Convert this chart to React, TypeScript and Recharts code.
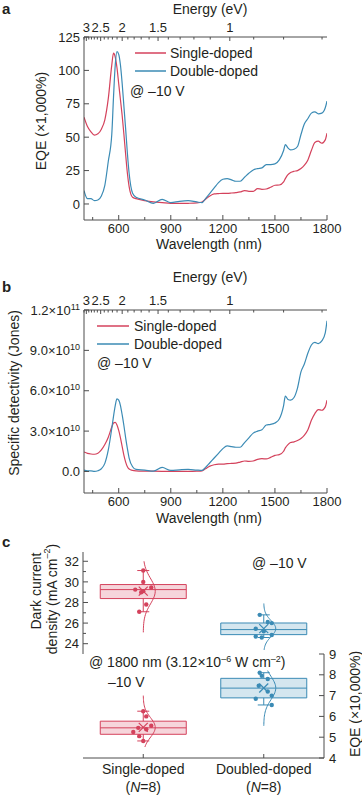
import React from 'react';
import {
  LineChart,
  ComposedChart,
  Line,
  Scatter,
  XAxis,
  YAxis,
  Legend,
  ReferenceArea,
  ReferenceLine,
} from 'recharts';

const FONT = '"Liberation Sans", Arial, Helvetica, sans-serif';
const INK = '#231f20';
const FRAME = '#4d4d4d';
const RED = '#d4425c';
const BLUE = '#3b8bb5';
const COLORS = [RED, BLUE];

// ---------- panels a / b : spectra ----------
const seriesNames = ['Single-doped', 'Double-doped'];

const wavelengths = [
  400, 420, 440, 460, 480, 500, 520, 540, 560, 570, 580, 590, 600, 610, 620, 630, 640, 650, 660, 680,
  700, 750, 800, 850, 900, 950, 1000, 1050, 1080, 1100, 1125, 1150, 1175, 1200, 1225, 1250, 1275, 1300,
  1325, 1350, 1375, 1400, 1425, 1450, 1475, 1500, 1525, 1550, 1560, 1575, 1590, 1610, 1630, 1650, 1670,
  1690, 1710, 1730, 1750, 1770, 1790, 1800,
];

// EQE (x1,000 %)
const eqeSingle = [
  65, 58, 54, 51.5, 52.5, 56, 63, 79, 104, 113, 110, 102, 90, 78, 66, 52, 37, 23, 13, 5,
  4, 2.5, 1.5, 1, 0.5, 0.4, 0.5, 0.8, 1.5, 3.5, 6, 7.5, 7.8, 8, 8, 8.2, 8.5, 9,
  10, 9.5, 9.5, 11.5, 11, 11.2, 12.5, 14, 14.2, 16.5, 19, 22, 23.5, 24.5, 25, 26.5, 29,
  33, 40, 46, 47, 45.5, 48, 53,
];
const eqeDouble = [
  10, 4, 4, 2.5, 3, 6, 14, 32, 52, 80, 104, 114, 112, 104, 90, 73, 56, 38, 23, 8,
  5, 3, 0.5, 3.5, 1, 2, 2.5, 1.5, 1, 4, 8, 12, 16, 18.5, 19, 18, 17, 17,
  20, 23, 25.5, 26.5, 27, 29.5, 29.5, 30, 33, 40, 44.5, 42, 40.5, 41, 43, 52, 60,
  64, 68, 69, 67.5, 68, 72, 77,
];

// specific detectivity (x10^10 Jones)
const detSingle = [
  1.45, 1.35, 1.3, 1.28, 1.35, 1.6, 2.0, 2.55, 3.3, 3.6, 3.65, 3.45, 3.05, 2.5, 1.85, 1.2, 0.7, 0.35, 0.18, 0.08,
  0.05, 0.03, 0.02, 0.01, 0, 0, 0, 0.02, 0.05, 0.2, 0.4, 0.5, 0.55, 0.55, 0.58, 0.6, 0.62, 0.7,
  0.78, 0.75, 0.78, 0.9, 0.95, 0.93, 1.05, 1.2, 1.25, 1.5, 1.75, 2.0, 2.15, 2.2, 2.3, 2.45, 2.7,
  3.1, 3.8, 4.3, 4.6, 4.55, 4.8, 5.3,
];
const detDouble = [
  0.1, 0.05, 0.05, 0, 0.05, 0.2, 0.6, 1.6, 3.2, 4.1, 4.9, 5.4, 5.3, 4.9, 4.2, 3.4, 2.5, 1.7, 1.0, 0.35,
  0.15, 0.1, 0.02, 0.3, 0.08, 0.12, 0.15, 0.1, 0.08, 0.3, 0.65, 1.0, 1.35, 1.7, 1.9, 1.85, 1.8, 1.8,
  2.15, 2.5, 2.85, 3.0, 3.1, 3.45, 3.5, 3.6, 3.9, 4.9, 5.6, 5.35, 5.3, 5.5, 6.2, 7.4, 8.0,
  8.8, 9.4, 9.6, 9.5, 9.7, 10.3, 11.2,
];

const wlMajor = [600, 900, 1200, 1500, 1800];
const wlMinor = [450, 750, 1050, 1350, 1650];
const energyMajor = [3, 2.5, 2, 1.5, 1];
const energyMinor = [3.1, 2.9, 2.8, 2.7, 2.6, 2.4, 2.3, 2.2, 2.1, 1.9, 1.8, 1.7, 1.6, 1.4, 1.3, 1.2, 1.1, 0.9, 0.8, 0.7];
const eqeTicks = [0, 25, 50, 75, 100, 125];
const detTicks = [0, 3e10, 6e10, 9e10, 1.2e11];

// ---------- panel c : box plots ----------
const groupNames = ['Single-doped', 'Doubled-doped'];
const groupN = [8, 8];

// dark current density (mA cm^-2)
const darkSingle = [31.1, 30.0, 29.45, 29.25, 29.1, 29.0, 27.8, 27.1];
const darkDouble = [26.8, 26.1, 26.0, 25.45, 25.2, 24.85, 24.7, 24.6];
const darkQ1 = [28.38, 24.88];
const darkMedian = [29.25, 25.37];
const darkQ3 = [29.74, 26.01];
const darkCurveLo = [25.1, 23.4];
const darkCurveHi = [32.0, 27.9];
const darkMajor = [24, 26, 28, 30, 32];
const darkMinor = [25, 27, 29, 31];

// EQE at 1800 nm (x10,000 %)
const nirSingle = [6.25, 6.0, 5.55, 5.45, 5.38, 5.25, 5.05, 4.82];
const nirDouble = [8.1, 7.95, 7.8, 7.47, 7.2, 7.0, 6.85, 6.55];
const nirQ1 = [5.14, 6.89];
const nirMedian = [5.45, 7.36];
const nirQ3 = [5.77, 7.83];
const nirCurveLo = [4.53, 5.55];
const nirCurveHi = [7.0, 8.2];
const nirTicks = [4, 5, 6, 7, 8, 9];

// horizontal jitter of the points (px)
const jitterDark = [
  [0, 0, 8, -8, 0, -2, 3, -4],
  [-4, 4, 8, -8, 0, 8, -8, -2],
];
const jitterNir = [
  [0, 3, 8, -5, 3, -10, -4, 0],
  [-4, -2, 4, -5, 4, 8, -8, 8],
];

const PX = 120.5; // px per category unit in panel c
const BOX_HALF = 43 / PX;
const CAP = 6 / PX;
const CURVE_AMP = 12;

type Side = 'left' | 'right' | 'top' | 'bottom';
type TickOpts = {
  side: Side;
  gap: number;
  isMajor: (v: number) => boolean;
  label?: (v: number, x: number, y: number) => React.ReactNode;
  len?: number;
  minorLen?: number;
  fontSize?: number;
};

function makeTick(o: TickOpts) {
  return (props: any) => {
    const { x, y, payload } = props;
    const v = payload.value;
    const major = o.isMajor(v);
    const L = major ? o.len ?? 5 : o.minorLen ?? 3;
    let l = [0, 0, 0, 0];
    let anchor = 'middle';
    let dy = '0';
    if (o.side === 'left') {
      const ax = x + o.gap;
      l = [ax, y, ax + L, y];
      anchor = 'end';
      dy = '0.36em';
    } else if (o.side === 'right') {
      const ax = x - o.gap;
      l = [ax, y, ax - L, y];
      anchor = 'start';
      dy = '0.36em';
    } else if (o.side === 'bottom') {
      const ay = y - o.gap;
      l = [x, ay, x, ay - L];
      dy = '0.75em';
    } else {
      const ay = y + o.gap;
      l = [x, ay, x, ay + L];
      dy = '0';
    }
    const lab = major && o.label ? o.label(v, x, y) : null;
    return (
      <g>
        <line x1={l[0]} y1={l[1]} x2={l[2]} y2={l[3]} stroke={FRAME} strokeWidth={1} />
        {lab != null && (
          <text x={x} y={y} dy={dy} textAnchor={anchor} fontFamily={FONT} fontSize={o.fontSize ?? 13} fill={INK}>
            {lab}
          </text>
        )}
      </g>
    );
  };
}

const near = (list: number[]) => (v: number) => list.some((t) => Math.abs(t - v) < 1e-6 * Math.max(1, Math.abs(t)));

const energyTicksNm = [...energyMajor, ...energyMinor].map((e) => 1240 / e);
const energyMajorNm = energyMajor.map((e) => 1240 / e);

const bottomWlTick = makeTick({ side: 'bottom', gap: 3, isMajor: near(wlMajor), label: (v) => String(v) });
const topEvTick = makeTick({
  side: 'top',
  gap: 5,
  isMajor: near(energyMajorNm),
  label: (v) => String(Math.round((1240 / v) * 10) / 10),
  len: 4,
  minorLen: 2.5,
});

function sciLabel(v: number) {
  if (v === 0) return '0.0';
  const exp = Math.floor(Math.log10(v) + 1e-9);
  const mant = (v / Math.pow(10, exp)).toFixed(1);
  return (
    <>
      {mant}×10
      <tspan dy={-5} fontSize={9}>
        {exp}
      </tspan>
    </>
  );
}

const eqeLeftTick = makeTick({ side: 'left', gap: 4, isMajor: near(eqeTicks), label: (v) => String(v) });
const detLeftTick = makeTick({ side: 'left', gap: 4, isMajor: near(detTicks), label: (v) => sciLabel(v) });

function SpectrumLegend({ lineW, gap }: { lineW: number; gap: number }) {
  return (
    <div style={{ fontFamily: FONT, fontSize: 14, color: INK, lineHeight: 1 }}>
      {seriesNames.map((n, i) => (
        <div key={n} style={{ display: 'flex', alignItems: 'center', height: 18.5 }}>
          <svg width={lineW} height={4} style={{ display: 'block' }}>
            <line x1={0} y1={2} x2={lineW} y2={2} stroke={COLORS[i]} strokeWidth={1.5} />
          </svg>
          <span style={{ marginLeft: gap }}>{n}</span>
        </div>
      ))}
    </div>
  );
}

function SpectrumPanel(props: {
  top: number;
  single: number[];
  double: number[];
  scale: number;
  yDomain: [number, number];
  yTicks: number[];
  yTick: any;
  legendLeft: number;
  lineW: number;
  gap: number;
}) {
  const { top, single, double, scale, yDomain, yTicks, yTick, legendLeft, lineW, gap } = props;
  const data = wavelengths.map((wl, i) => ({ wl, single: single[i] * scale, double: double[i] * scale }));
  return (
    <div style={{ position: 'absolute', left: 0, top }}>
      <LineChart width={362} height={265} data={data} margin={{ top: 17, right: 35, bottom: 20, left: 44 }}>
        <XAxis
          xAxisId="wl"
          dataKey="wl"
          type="number"
          domain={[400, 1800]}
          allowDataOverflow
          ticks={[...wlMajor, ...wlMinor]}
          interval={0}
          height={25}
          tickSize={0}
          tickMargin={3}
          tickLine={false}
          axisLine={{ stroke: FRAME }}
          tick={bottomWlTick}
        />
        <XAxis
          xAxisId="ev"
          dataKey="wl"
          type="number"
          orientation="top"
          domain={[400, 1800]}
          allowDataOverflow
          ticks={energyTicksNm}
          interval={0}
          height={20}
          tickSize={0}
          tickMargin={5}
          tickLine={false}
          axisLine={{ stroke: FRAME }}
          tick={topEvTick}
        />
        <YAxis
          yAxisId="v"
          type="number"
          domain={yDomain}
          allowDataOverflow
          ticks={yTicks}
          interval={0}
          width={40}
          tickSize={0}
          tickMargin={4}
          tickLine={false}
          axisLine={{ stroke: FRAME }}
          tick={yTick}
        />
        <YAxis
          yAxisId="r"
          orientation="right"
          type="number"
          domain={yDomain}
          allowDataOverflow
          width={0}
          tick={false}
          tickLine={false}
          axisLine={{ stroke: FRAME }}
        />
        <Legend
          layout="vertical"
          align="center"
          verticalAlign="middle"
          wrapperStyle={{ left: legendLeft, top: 43.5, width: 200 }}
          content={() => <SpectrumLegend lineW={lineW} gap={gap} />}
        />
        <Line
          xAxisId="wl"
          yAxisId="v"
          type="monotone"
          dataKey="single"
          name={seriesNames[0]}
          stroke={RED}
          strokeWidth={1.2}
          dot={false}
          isAnimationActive={false}
        />
        <Line
          xAxisId="wl"
          yAxisId="v"
          type="monotone"
          dataKey="double"
          name={seriesNames[1]}
          stroke={BLUE}
          strokeWidth={1.2}
          dot={false}
          isAnimationActive={false}
        />
      </LineChart>
    </div>
  );
}

// ---------- box plot helpers ----------
const mean = (a: number[]) => a.reduce((s, v) => s + v, 0) / a.length;
const sd = (a: number[]) => {
  const m = mean(a);
  return Math.sqrt(a.reduce((s, v) => s + (v - m) * (v - m), 0) / (a.length - 1));
};

function normalCurve(pos: number, vals: number[], lo: number, hi: number) {
  const m = mean(vals);
  const s = sd(vals);
  const pts = [];
  for (let k = 0; k <= 40; k++) {
    const y = hi - ((hi - lo) * k) / 40;
    const z = (y - m) / s;
    pts.push({ x: pos + (CURVE_AMP * Math.exp((-z * z) / 2)) / PX, y });
  }
  return pts;
}

const Dot = (c: string) => (p: any) => <circle cx={p.cx} cy={p.cy} r={2.2} fill={c} />;
const Cross = (c: string) => (p: any) => (
  <g stroke={c} strokeWidth={1.2}>
    <line x1={p.cx - 4.5} y1={p.cy - 4.5} x2={p.cx + 4.5} y2={p.cy + 4.5} />
    <line x1={p.cx - 4.5} y1={p.cy + 4.5} x2={p.cx + 4.5} y2={p.cy - 4.5} />
  </g>
);
const NoShape = () => <g />;

function boxLayer(
  yId: string,
  groups: number[][],
  q1: number[],
  med: number[],
  q3: number[],
  lo: number[],
  hi: number[],
  jit: number[][],
) {
  const out: React.ReactNode[] = [];
  groups.forEach((vals, g) => {
    const pos = g + 1;
    const c = COLORS[g];
    const mn = Math.min(...vals);
    const mx = Math.max(...vals);
    const seg = (key: string, a: [number, number], b: [number, number]) => (
      <ReferenceLine
        key={key}
        yAxisId={yId}
        segment={[
          { x: a[0], y: a[1] },
          { x: b[0], y: b[1] },
        ]}
        stroke={c}
        strokeWidth={1}
        ifOverflow="visible"
      />
    );
    out.push(
      <ReferenceArea
        key={`box${g}`}
        yAxisId={yId}
        x1={pos - BOX_HALF}
        x2={pos + BOX_HALF}
        y1={q1[g]}
        y2={q3[g]}
        fill={c}
        fillOpacity={0.22}
        stroke={c}
        strokeWidth={1}
        strokeOpacity={1}
      />,
    );
    out.push(seg(`med${g}`, [pos - BOX_HALF, med[g]], [pos + BOX_HALF, med[g]]));
    out.push(seg(`wu${g}`, [pos, q3[g]], [pos, mx]));
    out.push(seg(`wl${g}`, [pos, q1[g]], [pos, mn]));
    out.push(seg(`cu${g}`, [pos - CAP, mx], [pos + CAP, mx]));
    out.push(seg(`cl${g}`, [pos - CAP, mn], [pos + CAP, mn]));
    out.push(
      <Scatter
        key={`curve${g}`}
        yAxisId={yId}
        data={normalCurve(pos, vals, lo[g], hi[g])}
        line={{ stroke: c, strokeWidth: 1 }}
        lineType="joint"
        shape={NoShape}
        isAnimationActive={false}
      />,
    );
    out.push(
      <Scatter
        key={`pts${g}`}
        yAxisId={yId}
        data={vals.map((v, i) => ({ x: pos + jit[g][i] / PX, y: v }))}
        shape={Dot(c)}
        isAnimationActive={false}
      />,
    );
    out.push(
      <Scatter
        key={`mean${g}`}
        yAxisId={yId}
        data={[{ x: pos, y: mean(vals) }]}
        shape={Cross(c)}
        isAnimationActive={false}
      />,
    );
  });
  return out;
}

const catTickPlain = makeTick({ side: 'bottom', gap: 0, isMajor: () => true, len: 4 });
const catTickLabel = makeTick({
  side: 'bottom',
  gap: 5,
  isMajor: () => true,
  len: 4,
  fontSize: 14,
  label: (v, x) => {
    const i = Math.round(v) - 1;
    return (
      <>
        <tspan x={x} dy="0.75em">
          {groupNames[i]}
        </tspan>
        <tspan x={x} dy="1.35em">
          (<tspan fontStyle="italic">N</tspan>={groupN[i]})
        </tspan>
      </>
    );
  },
});
const darkLeftTick = makeTick({ side: 'left', gap: 4, isMajor: near(darkMajor), label: (v) => String(v) });
const darkRightTick = makeTick({ side: 'right', gap: 0, isMajor: near(darkMajor) });
const nirRightTick = makeTick({ side: 'right', gap: 5, isMajor: () => true, label: (v) => String(v), len: 5 });
const nirLeftTick = makeTick({ side: 'left', gap: 0, isMajor: () => true, len: 5 });

function DarkPanel() {
  return (
    <div style={{ position: 'absolute', left: 0, top: 545 }}>
      <ComposedChart width={362} height={112} margin={{ top: 7, right: 38, bottom: 3, left: 53 }}>
        <XAxis
          dataKey="x"
          type="number"
          domain={[0.5, 2.5]}
          allowDataOverflow
          ticks={[1, 2]}
          interval={0}
          height={0}
          tickSize={0}
          tickMargin={0}
          tickLine={false}
          axisLine={{ stroke: FRAME }}
          tick={catTickPlain}
        />
        <XAxis
          xAxisId="t"
          orientation="top"
          type="number"
          domain={[0.5, 2.5]}
          allowDataOverflow
          height={0}
          tick={false}
          tickLine={false}
          axisLine={{ stroke: FRAME }}
        />
        <YAxis
          yAxisId="L"
          dataKey="y"
          type="number"
          domain={[23, 32.9]}
          allowDataOverflow
          ticks={[...darkMajor, ...darkMinor]}
          interval={0}
          width={30}
          tickSize={0}
          tickMargin={4}
          tickLine={false}
          axisLine={{ stroke: FRAME }}
          tick={darkLeftTick}
        />
        <YAxis
          yAxisId="R"
          orientation="right"
          type="number"
          domain={[23, 32.9]}
          allowDataOverflow
          ticks={[...darkMajor, ...darkMinor]}
          interval={0}
          width={0}
          tickSize={0}
          tickMargin={0}
          tickLine={false}
          axisLine={{ stroke: FRAME }}
          tick={darkRightTick}
        />
        {boxLayer('L', [darkSingle, darkDouble], darkQ1, darkMedian, darkQ3, darkCurveLo, darkCurveHi, jitterDark)}
      </ComposedChart>
    </div>
  );
}

function NirPanel() {
  return (
    <div style={{ position: 'absolute', left: 0, top: 640 }}>
      <ComposedChart width={362} height={157} margin={{ top: 14, right: 8, bottom: 0, left: 83 }}>
        <XAxis
          dataKey="x"
          type="number"
          domain={[0.5, 2.5]}
          allowDataOverflow
          ticks={[1, 2]}
          interval={0}
          height={39}
          tickSize={0}
          tickMargin={5}
          tickLine={false}
          axisLine={{ stroke: FRAME }}
          tick={catTickLabel}
        />
        <YAxis
          yAxisId="L"
          type="number"
          domain={[4, 9]}
          allowDataOverflow
          ticks={nirTicks}
          interval={0}
          width={0}
          tickSize={0}
          tickMargin={0}
          tickLine={false}
          axisLine={{ stroke: FRAME }}
          tick={nirLeftTick}
        />
        <YAxis
          yAxisId="R"
          dataKey="y"
          orientation="right"
          type="number"
          domain={[4, 9]}
          allowDataOverflow
          ticks={nirTicks}
          interval={0}
          width={30}
          tickSize={0}
          tickMargin={5}
          tickLine={false}
          axisLine={{ stroke: FRAME }}
          tick={nirRightTick}
        />
        {boxLayer('R', [nirSingle, nirDouble], nirQ1, nirMedian, nirQ3, nirCurveLo, nirCurveHi, jitterNir)}
      </ComposedChart>
    </div>
  );
}

function Overlay() {
  const t = { fontFamily: FONT, fontSize: 14, fill: INK } as const;
  const rot = (x: number, y: number) => ({
    transform: `translate(${x},${y}) rotate(-90)`,
    textAnchor: 'middle' as const,
    dominantBaseline: 'central' as const,
  });
  return (
    <svg width={362} height={797} style={{ position: 'absolute', left: 0, top: 0, pointerEvents: 'none' }}>
      <text x={2} y={14} {...t} fontWeight="bold" fontSize={15}>a</text>
      <text x={210} y={14} {...t} textAnchor="middle">Energy (eV)</text>
      <text x={209} y={249} {...t} textAnchor="middle">Wavelength (nm)</text>
      <text {...t} {...rot(41, 121)}>EQE (×1,000%)</text>
      <text x={130} y={96} {...t}>@ –10 V</text>

      <text x={2} y={292} {...t} fontWeight="bold" fontSize={15}>b</text>
      <text x={210} y={282} {...t} textAnchor="middle">Energy (eV)</text>
      <text x={209} y={523} {...t} textAnchor="middle">Wavelength (nm)</text>
      <text {...t} {...rot(14, 393)}>Specific detectivity (Jones)</text>
      <text x={97} y={368} {...t}>@ –10 V</text>

      <text x={2} y={547} {...t} fontWeight="bold" fontSize={15}>c</text>
      <text {...t} {...rot(36, 591)}>Dark current</text>
      <text {...t} {...rot(52, 599)}>
        density (mA cm
        <tspan dy={-5} fontSize={9}>–2</tspan>
        <tspan dy={5}>)</tspan>
      </text>
      <text x={252} y={568} {...t}>@ –10 V</text>
      <text x={89} y={667} {...t}>
        @ 1800 nm (3.12×10
        <tspan dy={-5} fontSize={9}>–6</tspan>
        <tspan dy={5}> W cm</tspan>
        <tspan dy={-5} fontSize={9}>–2</tspan>
        <tspan dy={5}>)</tspan>
      </text>
      <text x={108} y={687} {...t}>–10 V</text>
      <text {...t} {...rot(355, 704)}>EQE (×10,000%)</text>
    </svg>
  );
}

export default function App() {
  return (
    <div
      style={{
        position: 'absolute',
        left: 0,
        top: 0,
        width: 362,
        height: 797,
        background: '#fff',
        fontFamily: FONT,
        overflow: 'hidden',
      }}
    >
      <SpectrumPanel
        top={0}
        single={eqeSingle}
        double={eqeDouble}
        scale={1}
        yDomain={[-12, 125]}
        yTicks={eqeTicks}
        yTick={eqeLeftTick}
        legendLeft={135}
        lineW={31}
        gap={4}
      />
      <SpectrumPanel
        top={273}
        single={detSingle}
        double={detDouble}
        scale={1e10}
        yDomain={[-1.6e10, 1.2e11]}
        yTicks={detTicks}
        yTick={detLeftTick}
        legendLeft={97}
        lineW={32}
        gap={5}
      />
      <DarkPanel />
      <NirPanel />
      <Overlay />
    </div>
  );
}
